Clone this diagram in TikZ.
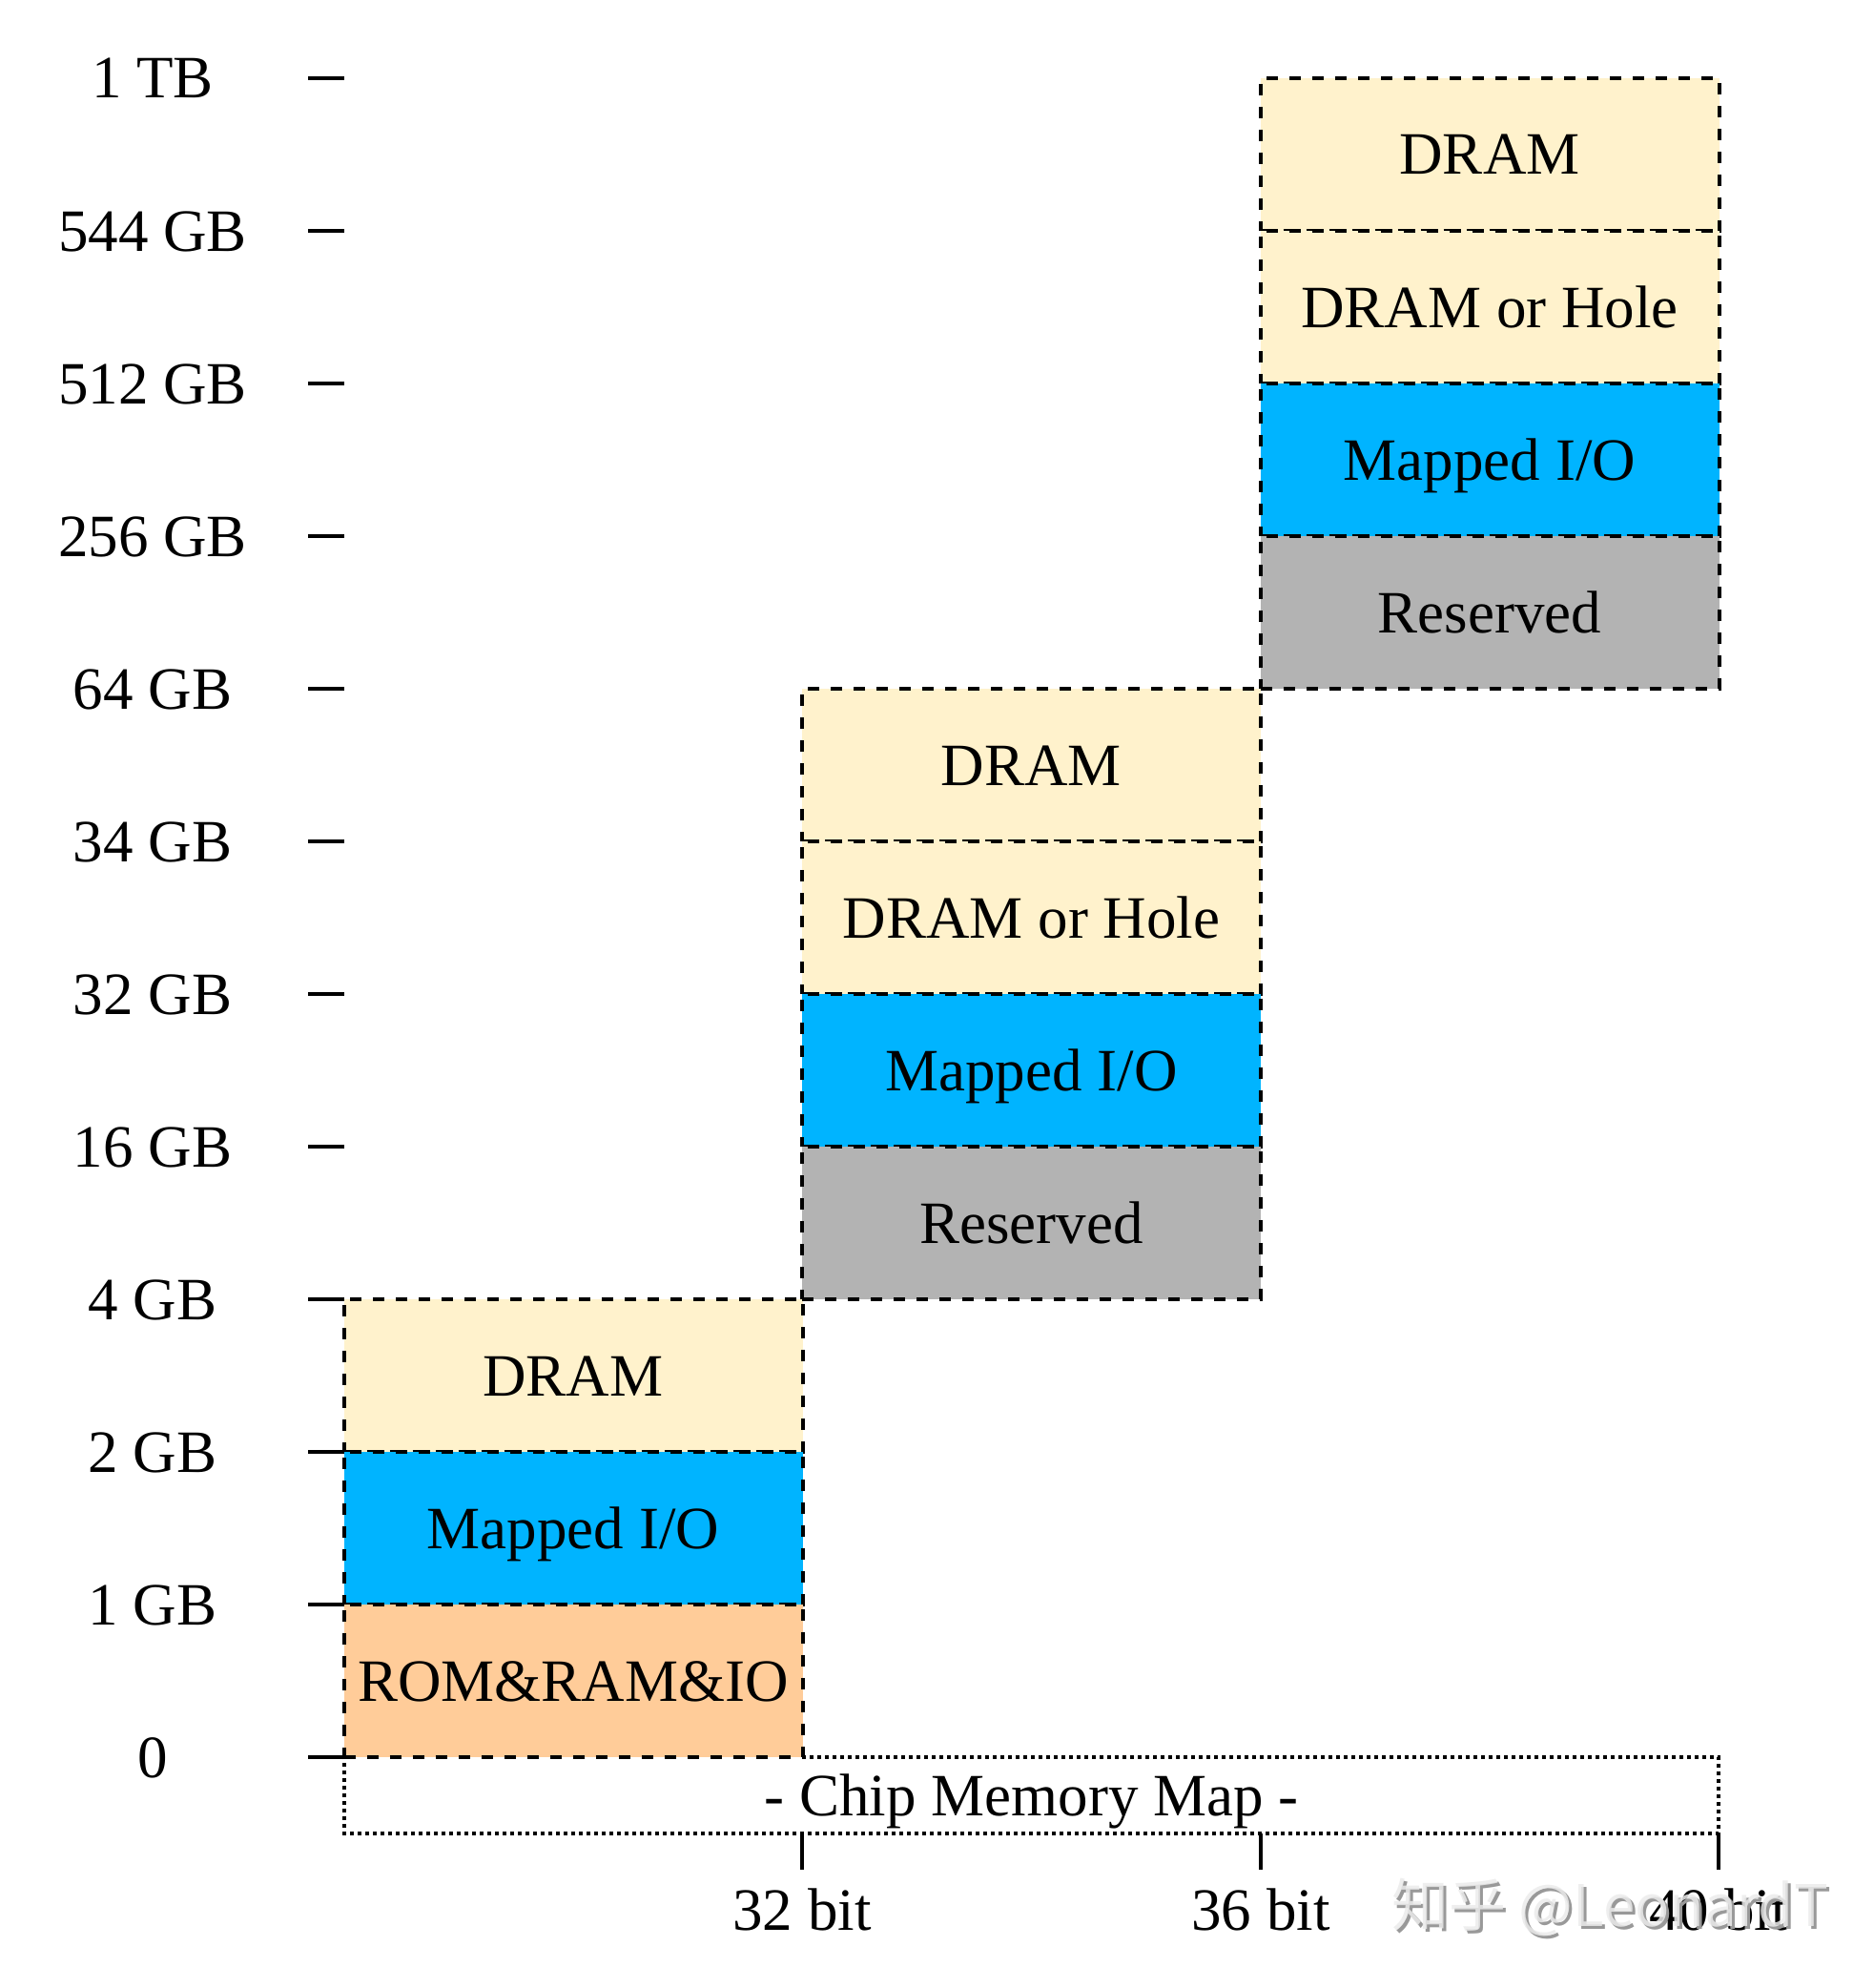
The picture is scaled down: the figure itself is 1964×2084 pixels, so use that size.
\documentclass[tikz,border=0pt]{standalone}
\usepackage{fontspec}
\setmainfont{Liberation Serif}
\newfontfamily\cjk{Noto Sans CJK SC}
\definecolor{dramc}{HTML}{FFF2CC}
\definecolor{mioc}{HTML}{00B4FF}
\definecolor{resc}{HTML}{B3B3B3}
\definecolor{romc}{HTML}{FFCC99}
\begin{document}
\begin{tikzpicture}[x=1pt,y=-1pt,
  bigfont/.style={font=\fontsize{63}{70}\selectfont},
  cell/.style={bigfont, draw=black, line width=4pt, dash pattern=on 12pt off 12pt,
    minimum width=481pt, minimum height=160pt, inner sep=0pt,
    text height=42pt, text depth=0pt},
  lbl/.style={bigfont, inner sep=0pt, text height=42pt, text depth=0pt},
  tickline/.style={line width=4pt},
  dotline/.style={line width=4pt, dash pattern=on 4pt off 4pt}]
\useasboundingbox (0,0) rectangle (1964,2084);

% chip memory map frame (dotted)
\node[lbl, minimum width=1441pt, minimum height=80pt] (chip) at (1081.5,1882) {- Chip Memory Map -};
\draw[dotline] (841,1842) -- (1802,1842) -- (1802,1922) -- (361,1922) -- (361,1842);

% column 1 (32 bit)
\node[cell, fill=dramc] (a1) at (601,1442) {DRAM};
\node[cell, fill=mioc]  (a2) at (601,1602) {Mapped I/O};
\node[cell, fill=romc]  (a3) at (601,1762) {ROM\&RAM\&IO};

% column 2 (36 bit)
\node[cell, fill=dramc] (b1) at (1081.5,802) {DRAM};
\node[cell, fill=dramc] (b2) at (1081.5,962) {DRAM or Hole};
\node[cell, fill=mioc]  (b3) at (1081.5,1122) {Mapped I/O};
\node[cell, fill=resc]  (b4) at (1081.5,1282) {Reserved};

% column 3 (40 bit)
\node[cell, fill=dramc] (c1) at (1562,162) {DRAM};
\node[cell, fill=dramc] (c2) at (1562,322) {DRAM or Hole};
\node[cell, fill=mioc]  (c3) at (1562,482) {Mapped I/O};
\node[cell, fill=resc]  (c4) at (1562,642) {Reserved};

% y axis labels and ticks
\foreach \t [count=\i from 0] in {1 TB,544 GB,512 GB,256 GB,64 GB,34 GB,32 GB,16 GB,4 GB,2 GB,1 GB,0}{
  \node[lbl] (y\i) at (160,82+160*\i) {\t};
  \draw[tickline] (323,82+160*\i) -- (361,82+160*\i);
}

% x axis ticks and labels
\foreach \xx/\t/\n in {841/32 bit/x1,1322/36 bit/x2,1802/40 bit/x3}{
  \draw[tickline] (\xx,1922) -- (\xx,1960);
  \node[lbl] (\n) at (\xx,2002) {\t};
}

% watermark
\node[font=\cjk\fontsize{60}{64}\selectfont, text=black!40, inner sep=0pt] (wms) at (1691,2002) {知乎 @LeonardT};
\node[font=\cjk\fontsize{60}{64}\selectfont, text=black!8, inner sep=0pt, opacity=0.85] (wm) at (1688,1999) {知乎 @LeonardT};
\end{tikzpicture}
\end{document}
